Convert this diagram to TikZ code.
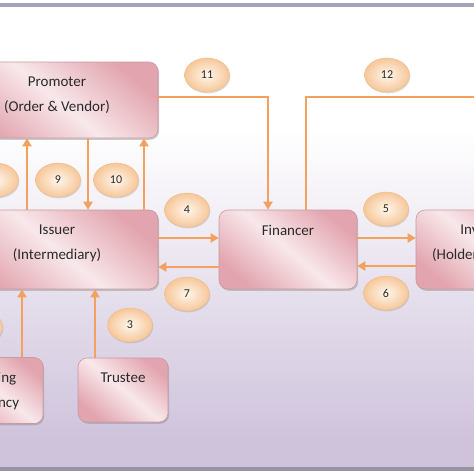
\documentclass[tikz,border=0pt]{standalone}
\usepackage{fontspec}
\setmainfont{Carlito}
\usetikzlibrary{arrows.meta}
\usetikzlibrary{shadows}
\usetikzlibrary{shapes.geometric}
\usetikzlibrary{positioning}

\definecolor{boxedge}{HTML}{E2A4AE}
\definecolor{boxmid}{HTML}{F8E8EB}
\definecolor{boxline}{HTML}{C89AA2}
\definecolor{flowcol}{HTML}{F2A25E}
\definecolor{ovalin}{HTML}{FFF6EC}
\definecolor{ovalout}{HTML}{F6C799}
\definecolor{lav}{HTML}{CFC3DC}
\definecolor{rulecol}{HTML}{A8A2B6}
\definecolor{txt}{HTML}{2A2A2A}

\begin{document}
\begin{tikzpicture}[x=1pt,y=-1pt,
  box/.style={draw=boxline,line width=0.6pt,rounded corners=9pt,
    top color=boxedge,bottom color=boxedge,middle color=boxmid,shading angle=-40,
    drop shadow={shadow xshift=1.2pt,shadow yshift=-1.8pt,fill=black!45,opacity=0.45}},
  boxtext/.style={anchor=north,yshift=-15pt,inner sep=0pt,align=center,text=txt,
    font=\fontsize{15}{25}\selectfont},
  oval/.style={ellipse,draw=ovalout!85!brown,line width=0.4pt,inner color=ovalin,outer color=ovalout,
    minimum width=45pt,minimum height=34pt,inner sep=0pt,text=txt,font=\fontsize{12}{12}\selectfont,
    drop shadow={shadow xshift=0.8pt,shadow yshift=-1.4pt,fill=black!40,opacity=0.35}},
  flow/.style={draw=flowcol,line width=2.4pt,-{Triangle[length=8pt,width=9pt]}}]
\useasboundingbox (0,0) rectangle (474,474);
\clip (0,0) rectangle (474,474);

% background
\fill[white] (0,0) rectangle (474,474);
\fill[rulecol] (0,3) rectangle (474,6.5);
\shade[top color=white,bottom color=lav] (0,130) rectangle (474,440);
\fill[lav] (0,440) rectangle (474,467);
\fill[rulecol!90!black] (0,467) rectangle (474,470.5);

% boxes
\node[box,minimum width=202pt,minimum height=76pt,
  label={[boxtext]north:Promoter\\(Order \& Vendor)}] (promoter) at (57,100) {};
\node[box,minimum width=202pt,minimum height=79pt,
  label={[boxtext]north:Issuer\\(Intermediary)}] (issuer) at (57,249.5) {};
\node[box,minimum width=138pt,minimum height=79pt,
  label={[boxtext]north:Financer}] (financer) at (288,249.5) {};
\node[box,minimum width=138pt,minimum height=79pt,
  label={[boxtext]north:Investor\\(Holder of Sukuk)}] (investor) at (485,249.5) {};
\node[box,minimum width=92pt,minimum height=66pt,
  label={[boxtext]north:Rating\\Agency}] (rating) at (-3,390.5) {};
\node[box,minimum width=90pt,minimum height=64pt,
  label={[boxtext]north:Trustee}] (trustee) at (123,390) {};

% connectors
\draw[flow] ([xshift=-30pt]promoter.south |- issuer.north) -- ([xshift=-30pt]promoter.south);
\draw[flow] ([xshift=31pt]promoter.south) -- ([xshift=31pt]promoter.south |- issuer.north);
\draw[flow] ([xshift=87pt]promoter.south |- issuer.north) -- ([xshift=87pt]promoter.south);

\draw[flow] ([yshift=11.5pt]issuer.east) -- ([yshift=11.5pt]financer.west);
\draw[flow] ([yshift=-17.5pt]financer.west) -- ([yshift=-17.5pt]issuer.east);
\draw[flow] ([yshift=11.5pt]financer.east) -- ([yshift=11.5pt]investor.west);
\draw[flow] ([yshift=-16.5pt]investor.west) -- ([yshift=-16.5pt]financer.east);

\draw[flow] ([xshift=25pt]rating.north) -- ([xshift=25pt]rating.north |- issuer.south);
\draw[flow] ([xshift=-28pt]trustee.north) -- ([xshift=-28pt]trustee.north |- issuer.south);

\draw[flow] ([yshift=3pt]promoter.east) -| ([xshift=-20pt]financer.north);
\coordinate (far12) at (560,97);
\draw[flow] ([xshift=18pt]financer.north) |- (far12);

% numbered steps
\node[oval] (s2) at (-20,327) {2};
\node[oval] (s3) at (130,325) {3};
\node[oval] (s4) at (187,210) {4};
\node[oval] (s5) at (386,209) {5};
\node[oval] (s6) at (386,293) {6};
\node[oval] (s7) at (187,294) {7};
\node[oval] (s8) at (-4,180) {8};
\node[oval] (s9) at (58,180) {9};
\node[oval] (s10) at (116,180) {10};
\node[oval] (s11) at (207,75) {11};
\node[oval] (s12) at (387,75) {12};

\end{tikzpicture}
\end{document}
